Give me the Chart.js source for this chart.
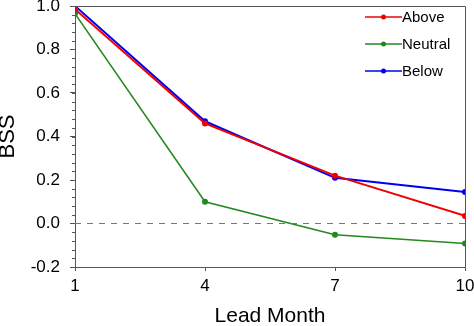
<!DOCTYPE html>
<html>
<head>
<meta charset="utf-8">
<script src="https://cdn.jsdelivr.net/npm/chart.js@4"></script>
<style>
  html, body { margin: 0; padding: 0; background: #fff; }
  #wrap { width: 474px; height: 326px; }
</style>
</head>
<body>
<div id="wrap"><canvas id="bss-chart" width="474" height="326"></canvas></div>
<script>
const leadMonths = [1, 4, 7, 10];
const above = [0.985, 0.46, 0.22, 0.035];
const neutral = [0.965, 0.10, -0.052, -0.092];
const below = [1.0, 0.47, 0.21, 0.145];
const yTicks = [-0.2, 0.0, 0.2, 0.4, 0.6, 0.8, 1.0];

const FONT = "'Liberation Sans', Arial, sans-serif";
const AXIS = '#555';

function toPoints(vals) {
    return leadMonths.map((m, i) => ({ x: m, y: vals[i] }));
}

const seriesDefs = [
    { label: 'Above', data: above, color: '#f00000' },
    { label: 'Neutral', data: neutral, color: '#22881f' },
    { label: 'Below', data: below, color: '#0000f0' }
];

// frame, minor ticks and the legend (no box in the original)
const extras = {
    id: 'extras',
    afterDraw(chart) {
        const ctx = chart.ctx;
        const a = chart.chartArea;
        const ys = chart.scales.y;
        ctx.save();
        ctx.strokeStyle = AXIS;
        ctx.lineWidth = 1;
        ctx.beginPath();
        ctx.moveTo(a.left, a.top + 0.5);
        ctx.lineTo(a.right + 0.5, a.top + 0.5);
        ctx.lineTo(a.right + 0.5, a.bottom);
        ctx.stroke();
        // minor ticks on y
        for (let v = -0.2; v <= 1.0001; v += 0.04) {
            const p = Math.round(ys.getPixelForValue(v)) + 0.5;
            ctx.beginPath();
            ctx.moveTo(a.left - 3, p);
            ctx.lineTo(a.left, p);
            ctx.stroke();
        }
        ctx.font = '15px ' + FONT;
        ctx.textBaseline = 'middle';
        seriesDefs.forEach((s, i) => {
            const y = 17 + i * 27;
            ctx.strokeStyle = s.color;
            ctx.lineWidth = 1.5;
            ctx.beginPath();
            ctx.moveTo(365, y);
            ctx.lineTo(402, y);
            ctx.stroke();
            ctx.fillStyle = s.color;
            ctx.beginPath();
            ctx.arc(383.5, y, 2.5, 0, Math.PI * 2);
            ctx.fill();
            ctx.fillStyle = '#000';
            ctx.fillText(s.label, 402, y + 1);
        });
        ctx.restore();
    }
};

const datasets = seriesDefs.map(s => ({
    label: s.label,
    data: toPoints(s.data),
    borderColor: s.color,
    backgroundColor: s.color,
    borderWidth: s.label === 'Neutral' ? 1.5 : 2,
    pointRadius: 3,
    pointBorderWidth: 0,
    tension: 0
}));

datasets.unshift({
    label: 'zero',
    data: [{ x: 1, y: 0 }, { x: 10, y: 0 }],
    borderColor: '#777',
    borderWidth: 1,
    borderDash: [6, 6],
    pointRadius: 0
});

new Chart(document.getElementById('bss-chart'), {
    type: 'line',
    data: { datasets: datasets },
    options: {
        responsive: false,
        animation: false,
        layout: { padding: { top: 6, right: 9, left: 0, bottom: 0 } },
        plugins: { legend: { display: false }, tooltip: { enabled: false } },
        scales: {
            x: {
                type: 'linear',
                min: 1,
                max: 10,
                afterBuildTicks: scale => { scale.ticks = leadMonths.map(v => ({ value: v })); },
                afterFit: scale => {
                    scale.height = 59;
                    scale.paddingLeft = 0;
                    scale.paddingRight = 0;
                },
                grid: { drawOnChartArea: false, tickLength: 4, color: AXIS },
                border: { color: AXIS },
                ticks: { color: '#000', font: { family: FONT, size: 17 }, padding: 5, maxRotation: 0 },
                title: { display: true, text: 'Lead Month', color: '#000', font: { family: FONT, size: 21, lineHeight: 0.95 }, padding: 0 }
            },
            y: {
                min: -0.2,
                max: 1.0,
                afterBuildTicks: scale => { scale.ticks = yTicks.map(v => ({ value: v })); },
                afterFit: scale => {
                    scale.width = 75;
                    scale.paddingTop = 0;
                    scale.paddingBottom = 0;
                },
                grid: { drawOnChartArea: false, tickLength: 5, color: AXIS },
                border: { color: AXIS },
                ticks: { color: '#000', font: { family: FONT, size: 17 }, padding: 10, callback: v => v.toFixed(1) },
                title: { display: true, text: 'BSS', color: '#000', font: { family: FONT, size: 22, lineHeight: 0.75 }, padding: 0 }
            }
        }
    },
    plugins: [extras]
});
</script>
</body>
</html>
